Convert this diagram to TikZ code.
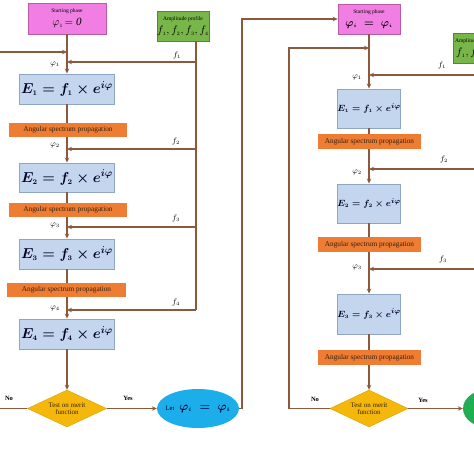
\documentclass[tikz,border=0pt]{standalone}
\usepackage{amsmath}
\usepackage{fontspec}
\setmainfont{Liberation Serif}
\usetikzlibrary{shapes.geometric,arrows.meta}
\definecolor{brn}{HTML}{8B5A3C}
\definecolor{pinkc}{HTML}{F17FE3}
\definecolor{pinkd}{HTML}{B85AAA}
\definecolor{grnc}{HTML}{78B64A}
\definecolor{grnd}{HTML}{4E8A2E}
\definecolor{bluec}{HTML}{C3D6EE}
\definecolor{blued}{HTML}{8EA6C4}
\definecolor{orgc}{HTML}{EE7D33}
\definecolor{goldc}{HTML}{F5B80A}
\definecolor{goldd}{HTML}{D9A000}
\definecolor{cyanc}{HTML}{1BAEEA}
\definecolor{grne}{HTML}{1FAF52}
\newcommand{\eqn}[1]{$\boldsymbol{E_{\scriptscriptstyle #1}=f_{\scriptscriptstyle #1}\times e^{i\varphi}}$}
\tikzset{
  conn/.style={draw=brn, line width=1.7pt},
  arr/.style={conn, -{Stealth[length=5pt,width=4.5pt]}},
  startbox/.style={draw=pinkd, fill=pinkc, line width=0.6pt, inner sep=0pt, align=center},
  ampbox/.style={draw=grnd, fill=grnc, line width=0.6pt, inner sep=0pt, align=center},
  ebox/.style={draw=blued, fill=bluec, line width=0.9pt, inner sep=0pt, text=black!85!blue},
  angbox/.style={fill=orgc, inner sep=0pt, font=\fontsize{7.3}{8}\selectfont, text=black!75!brown},
  testdia/.style={diamond, draw=goldd, fill=goldc, inner sep=0pt, aspect=2.1, align=center, font=\fontsize{7}{7.5}\selectfont, text=black!70!brown},
  lbl/.style={inner sep=0pt, font=\fontsize{8}{8}\selectfont},
  yn/.style={inner sep=0pt, font=\bfseries\fontsize{6.5}{6.5}\selectfont}
}
\begin{document}
\begin{tikzpicture}[x=1pt,y=-1pt]
\useasboundingbox (0,0) rectangle (474,474);
\clip (0,0) rectangle (474,474);
\fill[white] (0,0) rectangle (474,474);

% ---------- left column ----------
\node[startbox, minimum width=78pt, minimum height=31pt] (pinkL) at (67,18.5)
  {{\fontsize{5.5}{6}\selectfont Starting phase}\\[1pt]{\fontsize{11}{12}\selectfont $\varphi_{\scriptscriptstyle 1}\!= \mathit{0}$}};
\node[ampbox, minimum width=44pt, minimum height=30pt] (ampL) at (183,26)
  {{\fontsize{5.5}{6}\selectfont Amplitude profile}\\[1pt]{\fontsize{11}{12}\selectfont $f_{\scriptscriptstyle 1},f_{\scriptscriptstyle 2},f_{\scriptscriptstyle 3},f_{\scriptscriptstyle 4}$}};
\coordinate (ampLb) at (196,41);

\node[ebox, minimum width=95pt, minimum height=30pt, font=\fontsize{14.5}{15}\selectfont] (E1L) at (67,89) {\eqn{1}};
\node[angbox, minimum width=118pt, minimum height=14pt] (A1L) at (68,130) {Angular spectrum propagation};
\node[ebox, minimum width=95pt, minimum height=29pt, font=\fontsize{14.5}{15}\selectfont] (E2L) at (67,177.5) {\eqn{2}};
\node[angbox, minimum width=118pt, minimum height=14pt] (A2L) at (68,210) {Angular spectrum propagation};
\node[ebox, minimum width=95pt, minimum height=30pt, font=\fontsize{14.5}{15}\selectfont] (E3L) at (67,254) {\eqn{3}};
\node[angbox, minimum width=119pt, minimum height=14pt] (A3L) at (66.5,290) {Angular spectrum propagation};
\node[ebox, minimum width=95pt, minimum height=30pt, font=\fontsize{14.5}{15}\selectfont] (E4L) at (67,334) {\eqn{4}};
\node[testdia, minimum width=79pt, minimum height=37pt] (TL) at (67,408.5) {Test on merit\\function};
\node[ellipse, fill=cyanc, minimum width=82pt, minimum height=39pt, inner sep=-12pt, text=black!80!blue] (LetL) at (198,408.5)
  {{\fontsize{6.5}{6.5}\selectfont Let}\ \ {\fontsize{12}{12}\selectfont $\boldsymbol{\varphi_{\scriptscriptstyle i}\;=\;\varphi_{\scriptscriptstyle i}}$}};

\coordinate (inL) at (0,52);
\coordinate (jL0) at (67,52);
\coordinate (noL) at (0,408.5);
\foreach \y/\n in {62/1,149/2,227/3,310/4}{
  \coordinate (gL\n) at (196,\y);
  \coordinate (mL\n) at (67,\y);
}
\draw[arr] (pinkL.south) -- (E1L.north);
\draw[arr] (inL) -- (jL0);
\draw[conn] (ampLb) -- (gL4);
\foreach \n in {1,2,3,4}{ \draw[arr] (gL\n) -- (mL\n); }
\draw[conn] (E1L.south) -- (E1L.south |- A1L.north);
\draw[arr] (E2L.north |- A1L.south) -- (E2L.north);
\draw[conn] (E2L.south) -- (E2L.south |- A2L.north);
\draw[arr] (E3L.north |- A2L.south) -- (E3L.north);
\draw[conn] (E3L.south) -- (E3L.south |- A3L.north);
\draw[arr] (E4L.north |- A3L.south) -- (E4L.north);
\draw[arr] (E4L.south) -- (TL.north);
\draw[conn] (TL.west) -- (noL);
\draw[arr] (TL.east) -- (LetL.west);

\node[lbl] (pl1) at (55,65) {$\varphi_{\scriptscriptstyle 1}$};
\node[lbl] (pl2) at (55,146) {$\varphi_{\scriptscriptstyle 2}$};
\node[lbl] (pl3) at (55,226) {$\varphi_{\scriptscriptstyle 3}$};
\node[lbl] (pl4) at (55,309) {$\varphi_{\scriptscriptstyle 4}$};
\node[lbl] (fl1) at (177,55) {$f_{\scriptscriptstyle 1}$};
\node[lbl] (fl2) at (176,141) {$f_{\scriptscriptstyle 2}$};
\node[lbl] (fl3) at (176,218) {$f_{\scriptscriptstyle 3}$};
\node[lbl] (fl4) at (176,302) {$f_{\scriptscriptstyle 4}$};
\node[yn] (noLt) at (9,398) {No};
\node[yn] (yesLt) at (128,398) {Yes};

% ---------- right column ----------
\node[startbox, minimum width=62pt, minimum height=30pt] (pinkR) at (369,19)
  {{\fontsize{5.5}{6}\selectfont Starting phase}\\[1pt]{\fontsize{11}{12}\selectfont $\boldsymbol{\varphi_{\scriptscriptstyle i}\;=\;\varphi_{\scriptscriptstyle i}}$}};
\node[ampbox, minimum width=44pt, minimum height=30pt] (ampR) at (475,48)
  {{\fontsize{5.5}{6}\selectfont Amplitude profile}\\[1pt]{\fontsize{11}{12}\selectfont $f_{\scriptscriptstyle 1},f_{\scriptscriptstyle 2},f_{\scriptscriptstyle 3}$}};

\node[ebox, minimum width=62pt, minimum height=39pt, font=\fontsize{9.5}{10}\selectfont] (E1R) at (369,108.5) {\eqn{1}};
\node[angbox, minimum width=103pt, minimum height=15pt] (A1R) at (369.5,141.5) {Angular spectrum propagation};
\node[ebox, minimum width=62pt, minimum height=39pt, font=\fontsize{9.5}{10}\selectfont] (E2R) at (369,203.5) {\eqn{2}};
\node[angbox, minimum width=103pt, minimum height=15pt] (A2R) at (369.5,244.5) {Angular spectrum propagation};
\node[ebox, minimum width=62pt, minimum height=40pt, font=\fontsize{9.5}{10}\selectfont] (E3R) at (369,314) {\eqn{3}};
\node[angbox, minimum width=103pt, minimum height=15pt] (A3R) at (369.5,357.5) {Angular spectrum propagation};
\node[testdia, minimum width=78pt, minimum height=37pt] (TR) at (369,408.5) {Test on merit\\function};
\node[ellipse, fill=grne, minimum width=54pt, minimum height=39pt, inner sep=0pt] (EndR) at (490,408.5) {};

\coordinate (c1) at (242,408.5);
\coordinate (c2) at (242,19);
\coordinate (d1) at (289,408.5);
\coordinate (d2) at (289,48);
\coordinate (d3) at (369,48);
\foreach \y/\n in {75/1,169/2,269/3}{
  \coordinate (gR\n) at (474,\y);
  \coordinate (mR\n) at (369,\y);
}
\draw[arr] (LetL.east) -- (c1) -- (c2) -- (pinkR.west);
\draw[arr] (pinkR.south) -- (E1R.north);
\draw[arr] (TR.west) -- (d1) -- (d2) -- (d3);
\foreach \n in {1,2,3}{ \draw[arr] (gR\n) -- (mR\n); }
\draw[conn] (E1R.south) -- (E1R.south |- A1R.north);
\draw[arr] (E2R.north |- A1R.south) -- (E2R.north);
\draw[conn] (E2R.south) -- (E2R.south |- A2R.north);
\draw[arr] (E3R.north |- A2R.south) -- (E3R.north);
\draw[conn] (E3R.south) -- (E3R.south |- A3R.north);
\draw[arr] (TR.north |- A3R.south) -- (TR.north);
\draw[arr] (TR.east) -- (EndR.west);

\node[lbl] (pr1) at (357,78) {$\varphi_{\scriptscriptstyle 1}$};
\node[lbl] (pr2) at (357,173) {$\varphi_{\scriptscriptstyle 2}$};
\node[lbl] (pr3) at (357,268) {$\varphi_{\scriptscriptstyle 3}$};
\node[lbl] (fr1) at (442,65) {$f_{\scriptscriptstyle 1}$};
\node[lbl] (fr2) at (444,159) {$f_{\scriptscriptstyle 2}$};
\node[lbl] (fr3) at (443,259) {$f_{\scriptscriptstyle 3}$};
\node[yn] (noRt) at (315,399) {No};
\node[yn] (yesRt) at (423,400) {Yes};
\end{tikzpicture}
\end{document}
